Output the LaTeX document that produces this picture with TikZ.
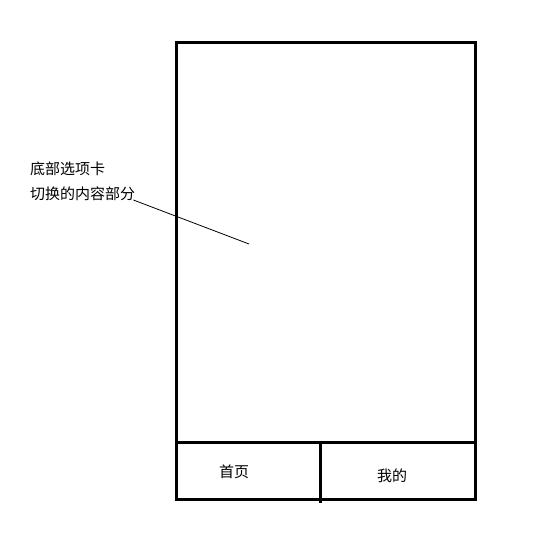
\documentclass[tikz,border=0pt]{standalone}
\usepackage{fontspec}
\newfontfamily\cjk{Noto Sans CJK SC}
\usetikzlibrary{positioning, calc}

\begin{document}
\begin{tikzpicture}[x=1bp, y=-1bp,
    frame/.style={line width=3bp},
    label/.style={font=\cjk\fontsize{15bp}{17bp}\selectfont, inner sep=0pt}]
    \useasboundingbox (0,0) rectangle (541,535);
    % Draw the phone screen and the tab bar
    \draw[frame] (176,43) rectangle (475,499);
    \coordinate (barleft) at (176,442);
    \coordinate (barright) at (475,442);
    \draw[frame] (barleft) -- (barright);
    \coordinate (divtop) at (320,442);
    \coordinate (divbottom) at (320,503);
    \draw[frame] (divtop) -- (divbottom);

    % Tab labels
    \node[label] (home) at (234,472) {首页};
    \node[label] (mine) at (392,476) {我的};

    % Add descriptive text
    \node[label, anchor=west] (hint1) at (30,169) {底部选项卡};
    \node[label, anchor=west] (hint2) at (30,194) {切换的内容部分};
    \coordinate (content) at (249,244);
    \draw[line width=0.8bp] ($(hint2.east)+(-2,6)$) -- (content);
\end{tikzpicture}
\end{document}
